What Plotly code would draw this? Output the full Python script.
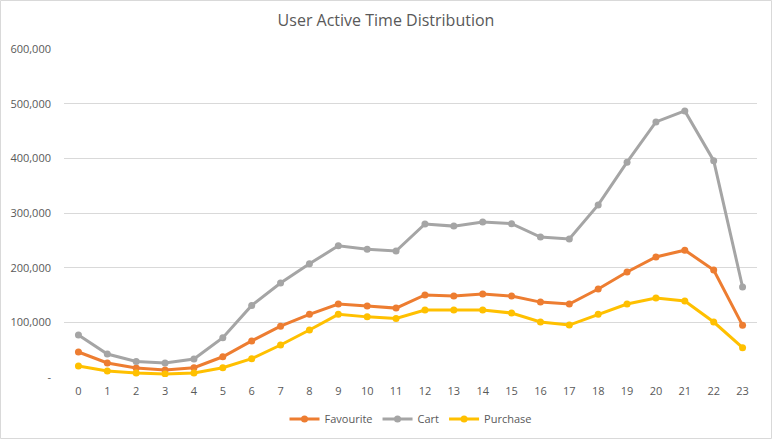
import plotly.graph_objects as go

# Datos (horas 0-23)
horas = list(range(24))
favourite = [45700, 25600, 16500, 12800, 17000, 37000, 66000, 93000, 114600, 133600, 130000, 126000,
             150000, 148000, 152000, 148000, 137000, 133600, 161000, 192000, 219600, 232000, 195800, 94500]
cart = [77000, 42000, 28500, 25600, 33000, 72000, 131000, 172000, 207000, 240000, 233500, 230500,
        280000, 276000, 283600, 280500, 256000, 252500, 314700, 393000, 466600, 486700, 395800, 164700]
purchase = [20000, 11000, 7300, 5500, 7300, 17000, 33500, 58500, 86000, 114600, 110000, 107000,
            122600, 122600, 122600, 117000, 100600, 95000, 115000, 133600, 144600, 139000, 100600, 53600]

y_ticks = [0, 100000, 200000, 300000, 400000, 500000, 600000]
y_labels = ['-', '100,000', '200,000', '300,000', '400,000', '500,000', '600,000']

series = [
    ('Favourite', favourite, '#ED7D31'),
    ('Cart', cart, '#A5A5A5'),
    ('Purchase', purchase, '#FFC000'),
]

fig = go.Figure()
for nombre, valores, color in series:
    fig.add_trace(go.Scatter(
        x=horas, y=valores, name=nombre, mode='lines+markers',
        line=dict(color=color, width=3),
        marker=dict(color=color, size=7)
    ))

fuente = "Open Sans"
gris = '#595959'

fig.update_layout(
    width=772, height=439,
    margin=dict(l=64, r=15, t=49, b=62, autoexpand=False),
    paper_bgcolor='white', plot_bgcolor='white',
    title=dict(text='User Active Time Distribution', x=0.5, xanchor='center',
               y=1 - 20 / 439, yanchor='middle',
               font=dict(family=fuente, size=16, color=gris)),
    font=dict(family=fuente, size=11, color=gris),
    xaxis=dict(range=[-0.5, 23.5], tickmode='array', tickvals=horas,
               showgrid=False, zeroline=False, showline=False, automargin=False,
               ticks='', ticklabelstandoff=6),
    yaxis=dict(range=[0, 600000], tickmode='array', tickvals=y_ticks, ticktext=y_labels,
               showgrid=True, gridcolor='#D9D9D9', gridwidth=1, zeroline=False, automargin=False,
               showline=False, ticks='', ticklabelstandoff=12),
    legend=dict(orientation='h', x=0.5, xanchor='center', y=-42 / 328, yanchor='middle',
                font=dict(family=fuente, size=11, color=gris), itemwidth=30),
    showlegend=True,
)

# Borde exterior del gráfico
fig.add_shape(type='rect', xref='paper', yref='paper',
              x0=(0.5 - 64) / 693, x1=(771.5 - 64) / 693,
              y0=-(62 - 0.5) / 328, y1=1 + (49 - 0.5) / 328,
              line=dict(color='#D9D9D9', width=1), layer='below')

# Quitar el margen por defecto de la página para que el gráfico empiece en (0,0)
fig.write_html("out.html", config={'displayModeBar': False},
               post_script="document.body.style.margin='0';")
